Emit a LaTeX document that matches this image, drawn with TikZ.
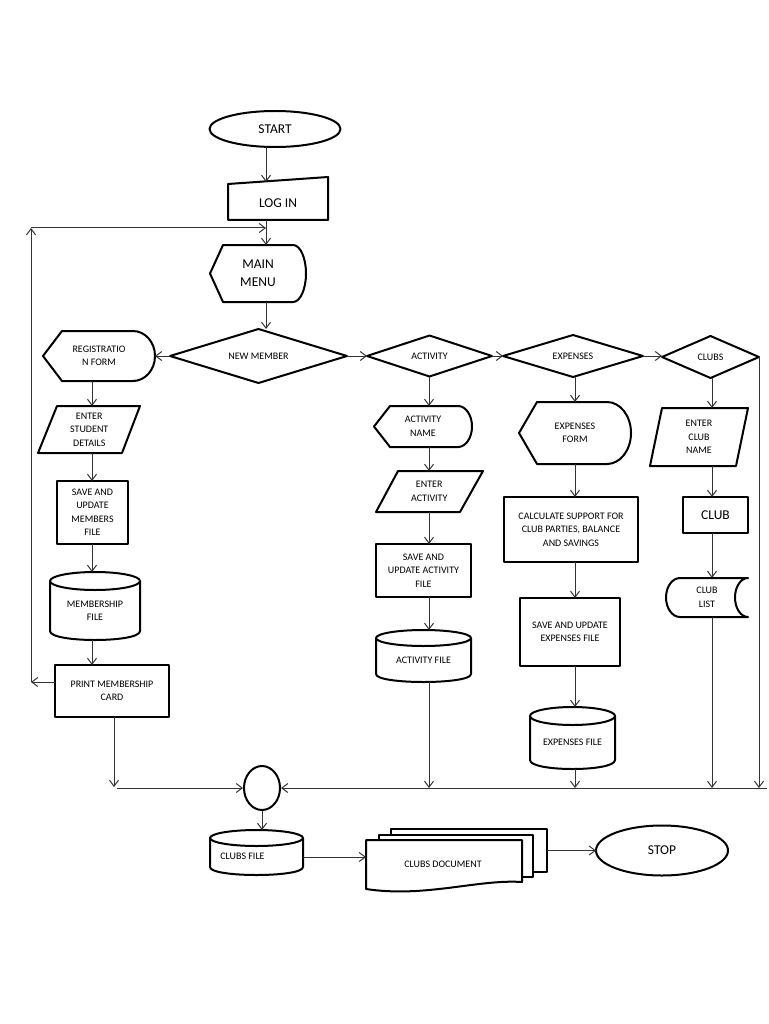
\documentclass[tikz,border=0pt]{standalone}
\usepackage{fontspec}
\setmainfont{Carlito}
\usetikzlibrary{arrows.meta,shapes.geometric,calc}
\tikzset{
  shp/.style={draw=black, line width=2pt, line join=round},
  ln/.style={draw=black!80, line width=1pt},
  arr/.style={ln, -{Straight Barb[length=6pt,width=9pt]}},
  lbl/.style={font=\fontsize{10}{13.5}\selectfont, align=center, inner sep=0pt, outer sep=0pt},
  bigl/.style={font=\fontsize{13.5}{18}\selectfont},
  area/.style={rectangle, inner sep=0pt, outer sep=0pt},
}
% rectangle process box
\newcommand\BoxN[7]{%
  \node[lbl, shp, rectangle, minimum width={(#3-#2)*1pt}, minimum height={(#5-#4)*1pt}, #7] (#1) at ({(#2+#3)/2},{(#4+#5)/2}) {#6};}
% decision diamond
\newcommand\DiaN[7]{%
  \node[area, minimum width=#4pt, minimum height=#5pt] (#1) at (#2,#3) {};
  \draw[shp] (#1.west) -- (#1.north) -- (#1.east) -- (#1.south) -- cycle;
  \node[lbl, #7] (#1t) at (#1.center) {#6};}
% display shape
\newcommand\DispN[9]{%
  \draw[shp] (#2,{(#5+#6)/2}) -- (#3,#5) -- ({#4-#7},#5)
    .. controls ({#4-0.4477*#7},#5) and (#4,{(#5+#6)/2-0.5523*(#6-#5)/2}) .. (#4,{(#5+#6)/2})
    .. controls (#4,{(#5+#6)/2+0.5523*(#6-#5)/2}) and ({#4-0.4477*#7},#6) .. ({#4-#7},#6)
    -- (#3,#6) -- cycle;
  \node[area, minimum width={(#4-#2)*1pt}, minimum height={(#6-#5)*1pt}] (#1) at ({(#2+#4)/2},{(#5+#6)/2}) {};
  \node[lbl, #9] (#1t) at (#1.center) {#8};}
% parallelogram (input)
\newcommand\ParN[9]{%
  \draw[shp] (#2,#6) -- (#3,#6) -- (#5,#7) -- (#4,#7) -- cycle;
  \node[area, minimum width={(#3-#2)*1pt}, minimum height={(#7-#6)*1pt}] (#1) at ({(#2+#3+#4+#5)/4},{(#6+#7)/2}) {};
  \node[lbl, #9] (#1t) at (#1.center) {#8};}
% cylinder (stored file)
\newcommand\CylN[8]{%
  \draw[shp] ({(#2+#3)/2},{#4+#6}) ellipse [x radius={(#3-#2)/2}, y radius=#6];
  \draw[shp] (#2,{#4+#6}) -- (#2,{#5-#6}) .. controls (#2,{#5+#6/3}) and (#3,{#5+#6/3}) .. (#3,{#5-#6}) -- (#3,{#4+#6});
  \node[area, minimum width={(#3-#2)*1pt}, minimum height={(#5-#4)*1pt}] (#1) at ({(#2+#3)/2},{(#4+#5)/2}) {};
  \node[lbl, #8] (#1t) at (#1.center) {#7};}

\begin{document}
\begin{tikzpicture}[x=1pt,y=-1pt]
\fill[white] (0,0) rectangle (768,1024);
\useasboundingbox (0,0) rectangle (768,1024);

% column coordinates
\coordinate (cM) at (266,0);
\coordinate (cL) at (92,0);
\coordinate (cA) at (429,0);
\coordinate (cE) at (575,0);
\coordinate (cC) at (712,0);
\coordinate (lpB) at (31,682);
\coordinate (lpT) at (31,228);
\coordinate (cP) at (114,787);
\coordinate (bL) at (117,788);
\coordinate (bR) at (767,788);

% start / login / main menu
\node[ellipse, shp, minimum width=131pt, minimum height=36pt, lbl, bigl] (st) at (275,129) {START};
\draw[shp] (228,184) -- (328,177) -- (328,220) -- (228,220) -- cycle;
\node[area, minimum width=100pt, minimum height=38pt] (li) at (278,201) {};
\node[lbl, bigl] (lit) at (278,203) {LOG IN};
\DispN{mm}{210}{223}{306}{245}{302}{13}{MAIN\\MENU}{bigl}

% decisions
\DiaN{nm}{258.5}{356}{177}{54}{NEW MEMBER}{}
\DiaN{ad}{429.5}{356}{125}{41}{ACTIVITY}{}
\DiaN{ed}{573}{356}{140}{42}{EXPENSES}{}
\DiaN{cd}{710.5}{357}{97}{42}{CLUBS}{}

% new member column
\DispN{rf}{43}{62}{155}{331}{381}{22}{REGISTRATIO\\N FORM}{}
\ParN{sd}{57}{140}{38}{122}{406}{453}{ENTER\\STUDENT\\DETAILS}{}
\BoxN{sm}{57}{128}{481}{544}{SAVE AND\\UPDATE\\MEMBERS\\FILE}{}
\CylN{mf}{50}{140}{572}{640}{9}{MEMBERSHIP\\FILE}{yshift=-4.5pt}
\BoxN{pc}{55}{169}{665}{717}{PRINT MEMBERSHIP\\CARD}{}

% activity column
\DispN{an}{374}{390}{472}{406}{447}{14}{ACTIVITY\\NAME}{}
\ParN{ea}{398}{483}{376}{460}{471}{512}{ENTER\\ACTIVITY}{}
\BoxN{sa}{376}{471}{544}{597}{SAVE AND\\UPDATE ACTIVITY\\FILE}{}
\CylN{af}{376}{471}{630}{682}{8}{ACTIVITY FILE}{yshift=-4pt}

% expenses column
\DispN{ef}{519}{537}{631}{402}{464}{24}{EXPENSES\\FORM}{}
\BoxN{cs}{504}{638}{497}{562}{CALCULATE SUPPORT FOR\\CLUB PARTIES, BALANCE\\AND SAVINGS}{}
\BoxN{se}{520}{620}{598}{666}{SAVE AND UPDATE\\EXPENSES FILE}{}
\CylN{xf}{530}{615}{707}{769}{9}{EXPENSES FILE}{yshift=-4.5pt}

% clubs column
\ParN{ec}{662}{748}{650}{736}{408}{466}{ENTER\\CLUB\\NAME}{}
\BoxN{cb}{683}{748}{497}{533}{CLUB}{bigl}
\draw[shp] (680,578) -- (748,578)
  .. controls (740.8,578) and (735,586.7) .. (735,597.5)
  .. controls (735,608.3) and (740.8,617) .. (748,617)
  -- (680,617)
  .. controls (672.3,617) and (666,608.3) .. (666,597.5)
  .. controls (666,586.7) and (672.3,578) .. cycle;
\node[area, minimum width=82pt, minimum height=39pt] (cl) at (707,597.5) {};
\node[lbl] (clt) at (707,597.5) {CLUB\\LIST};

% bottom part
\node[ellipse, shp, minimum width=36pt, minimum height=44pt] (cn) at (262,788) {};
\CylN{cf}{210}{303}{830}{875}{8}{CLUBS FILE}{yshift=-4pt, xshift=-14pt}
\draw[shp] (391,835) -- (391,829) -- (547,829) -- (547,872) -- (533,872);
\draw[shp] (379,840) -- (379,835) -- (533,835) -- (533,877) -- (522,877);
\draw[shp] (366,840) -- (522,840) -- (522,882) .. controls (478,879) and (425,898) .. (366,889) -- cycle;
\node[area, minimum width=156pt, minimum height=43pt] (dc3) at (469,850.5) {};
\node[area, minimum width=154pt, minimum height=42pt] (dc2) at (456,856) {};
\node[area, minimum width=156pt, minimum height=50pt] (dc) at (444,865) {};
\node[lbl] (dct) at (443,864) {CLUBS DOCUMENT};
\node[ellipse, shp, minimum width=132pt, minimum height=50pt, lbl, bigl] (sp) at (662,850.5) {STOP};

% connectors
\draw[arr] (st.south -| cM) -- (li.north -| cM);
\draw[arr] (li.south -| cM) -- (mm.north -| cM);
\draw[arr] (mm.south -| cM) -- (nm.north -| cM);
\draw[arr] (nm.west) -- (rf.east);
\draw[arr] (nm.east) -- (ad.west);
\draw[arr] (ad.east) -- (ed.west);
\draw[arr] (ed.east) -- (cd.west |- ed.east);

\draw[arr] (rf.south -| cL) -- (sd.north -| cL);
\draw[arr] (sd.south -| cL) -- (sm.north -| cL);
\draw[arr] (sm.south -| cL) -- (mf.north -| cL);
\draw[arr] (mf.south -| cL) -- (pc.north -| cL);
\draw[arr] (pc.west |- lpB) -- (lpB);
\draw[arr] (lpB) -- (lpT);
\draw[arr] (lpT) -- (lpT -| cM);
\draw[arr] (pc.south -| cP) -- (cP);

\draw[arr] (ad.south -| cA) -- (an.north -| cA);
\draw[arr] (an.south -| cA) -- (ea.north -| cA);
\draw[arr] (ea.south -| cA) -- (sa.north -| cA);
\draw[arr] (sa.south -| cA) -- (af.north -| cA);
\draw[arr] (af.south -| cA) -- (cA |- bR);

\draw[arr] (ed.south -| cE) -- (ef.north -| cE);
\draw[arr] (ef.south -| cE) -- (cs.north -| cE);
\draw[arr] (cs.south -| cE) -- (se.north -| cE);
\draw[arr] (se.south -| cE) -- (xf.north -| cE);
\draw[arr] (xf.south -| cE) -- (cE |- bR);

\draw[arr] (cd.south -| cC) -- (ec.north -| cC);
\draw[arr] (ec.south -| cC) -- (cb.north -| cC);
\draw[arr] (cb.south -| cC) -- (cl.north -| cC);
\draw[arr] (cl.south -| cC) -- (cC |- bR);
\draw[arr] (cd.east) -- (cd.east |- bR);

\draw[arr] (bL) -- (cn.west);
\draw[arr] (bR) -- (cn.east);
\draw[arr] (cn.south) -- (cn.south |- cf.north);
\coordinate (cfo) at ($(cf.east)+(0,4.5)$);
\draw[arr] (cfo) -- (cfo -| dc.west);
\draw[arr] (dc3.east) -- (sp.west);
\end{tikzpicture}
\end{document}
